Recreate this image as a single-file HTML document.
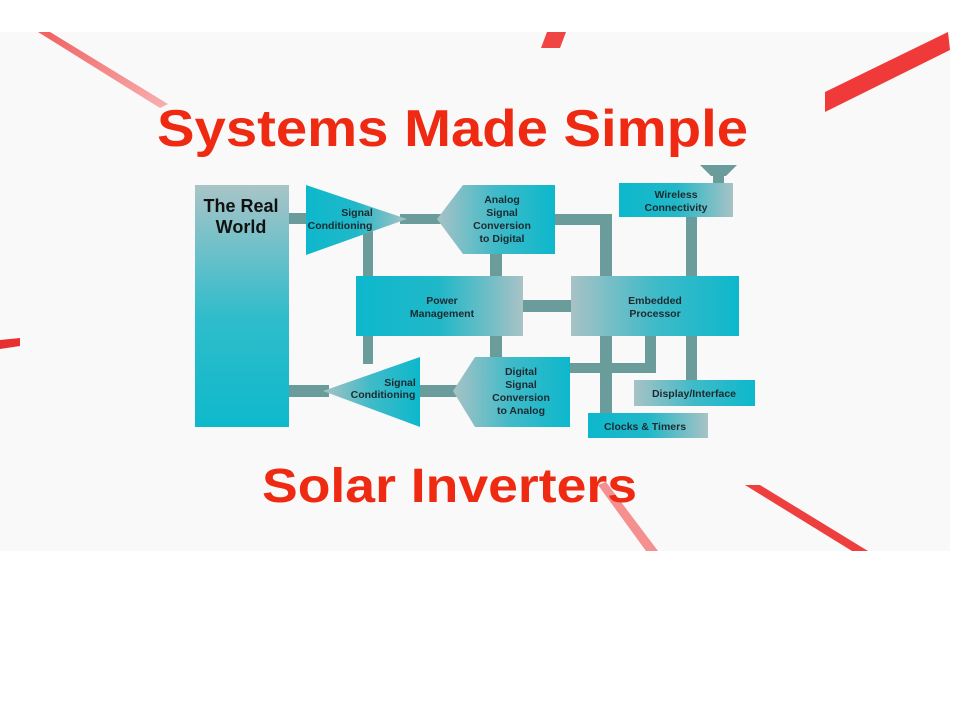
<!DOCTYPE html>
<html><head><meta charset="utf-8"><style>
html,body{margin:0;padding:0;background:#fff;width:960px;height:720px;overflow:hidden}
svg{display:block}
text{font-family:"Liberation Sans",Arial,sans-serif;font-weight:bold}
</style></head><body>
<svg width="960" height="720" viewBox="0 0 960 720" xmlns="http://www.w3.org/2000/svg">
<defs>
<linearGradient id="gv" x1="0" y1="0" x2="0" y2="1"><stop offset="0" stop-color="#a9c4c7"/><stop offset="0.55" stop-color="#2fbccb"/><stop offset="1" stop-color="#0eb9cb"/></linearGradient>
<linearGradient id="gl" x1="0" y1="0" x2="1" y2="0"><stop offset="0" stop-color="#0db8cc"/><stop offset="0.5" stop-color="#20b8c8"/><stop offset="1" stop-color="#a8c2c5"/></linearGradient>
<linearGradient id="gr" x1="0" y1="0" x2="1" y2="0"><stop offset="0" stop-color="#a8c2c5"/><stop offset="0.5" stop-color="#3fbac8"/><stop offset="1" stop-color="#0db8cc"/></linearGradient>
<linearGradient id="pk" x1="0" y1="0" x2="1" y2="1"><stop offset="0" stop-color="#f06060"/><stop offset="1" stop-color="#f7b0b0"/></linearGradient>
</defs>
<rect x="0" y="32" width="950" height="519" fill="#f9f9f9"/>
<!-- stripes -->
<polygon points="38,32 50,32 168,104 160,108" fill="url(#pk)"/>
<polygon points="547,32 566,32 560,48 541,48" fill="#f04545"/>
<polygon points="825,92 948,32 950,50 825,112" fill="#f03a3a"/>
<polygon points="0,340 20,338 20,346 0,349" fill="#e83030"/>
<polygon points="598,485 606,482 658,551 646,551" fill="#f59090"/>
<polygon points="745,485 760,485 868,551 852,551" fill="#ee3f3f"/>
<!-- titles -->
<text x="157" y="146" font-size="52" fill="#ee2a12" textLength="591" lengthAdjust="spacingAndGlyphs">Systems Made Simple</text>
<text x="262" y="502" font-size="48" fill="#ee2a12" textLength="375" lengthAdjust="spacingAndGlyphs">Solar Inverters</text>
<!-- connectors -->
<g fill="#6a9c9c">
<rect x="289" y="213" width="20" height="11"/>
<rect x="400" y="214" width="42" height="10"/>
<rect x="363" y="224" width="10" height="140"/>
<rect x="490" y="254" width="12" height="104"/>
<rect x="555" y="214" width="57" height="11"/>
<rect x="600" y="214" width="12" height="200"/>
<rect x="523" y="300" width="50" height="12"/>
<rect x="686" y="217" width="11" height="164"/>
<rect x="570" y="363" width="86" height="10"/>
<rect x="645" y="334" width="11" height="39"/>
<rect x="289" y="385" width="40" height="12"/>
<rect x="418" y="385" width="40" height="12"/>
<rect x="713" y="174" width="11" height="10"/>
<polygon points="700,165 737,165 726,176 711,176"/>
</g>
<!-- blocks -->
<rect x="195" y="185" width="94" height="242" fill="url(#gv)"/>
<polygon points="306,185 407,219 306,255" fill="url(#gl)"/>
<polygon points="437,219 463,185 555,185 555,254 463,254" fill="url(#gr)"/>
<rect x="356" y="276" width="167" height="60" fill="url(#gl)"/>
<rect x="571" y="276" width="168" height="60" fill="url(#gr)"/>
<rect x="619" y="183" width="114" height="34" fill="url(#gl)"/>
<polygon points="323,391 420,357 420,427" fill="url(#gr)"/>
<polygon points="453,391 475,357 570,357 570,427 475,427" fill="url(#gr)"/>
<rect x="634" y="380" width="121" height="26" fill="url(#gr)"/>
<rect x="588" y="413" width="120" height="25" fill="url(#gl)"/>
<!-- labels -->
<g fill="#111" text-anchor="middle">
<text x="241" y="212" font-size="18">The Real</text>
<text x="241" y="233" font-size="18">World</text>
</g>
<g fill="#1c2a30" text-anchor="middle" font-size="10.5">
<text x="357" y="216">Signal</text><text x="340" y="229">Conditioning</text>
<text x="502" y="203">Analog</text><text x="502" y="216">Signal</text><text x="502" y="229">Conversion</text><text x="502" y="242">to Digital</text>
<text x="442" y="304">Power</text><text x="442" y="317">Management</text>
<text x="655" y="304">Embedded</text><text x="655" y="317">Processor</text>
<text x="676" y="198">Wireless</text><text x="676" y="211">Connectivity</text>
<text x="400" y="386">Signal</text><text x="383" y="398">Conditioning</text>
<text x="521" y="375">Digital</text><text x="521" y="388">Signal</text><text x="521" y="401">Conversion</text><text x="521" y="414">to Analog</text>
<text x="694" y="397">Display/Interface</text>
<text x="645" y="430">Clocks &amp; Timers</text>
</g>
</svg>
</body></html>
